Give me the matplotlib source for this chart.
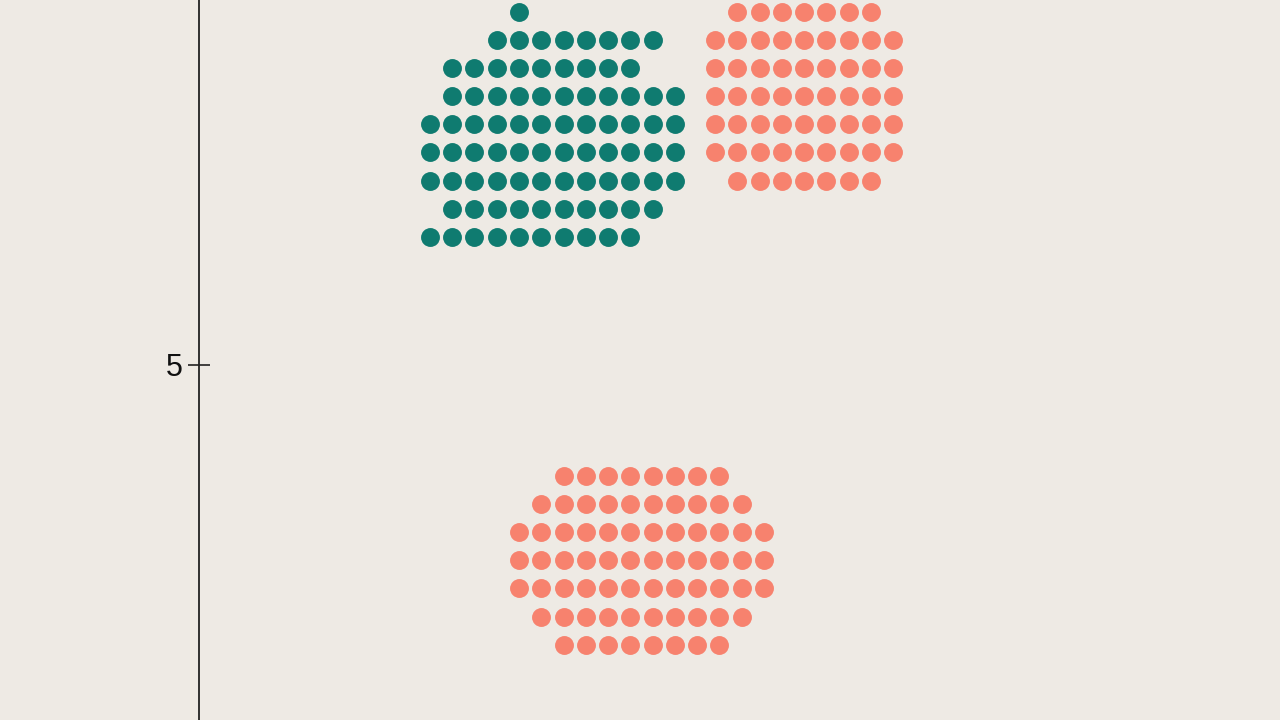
import matplotlib
matplotlib.use("Agg")
import matplotlib.pyplot as plt
import numpy as np

# ---- data: dot clusters (rows listed from top to bottom) ----
teal_row_starts = [4, 3, 1, 1, 0, 0, 0, 1, 0]
teal_row_counts = [1, 8, 9, 11, 12, 12, 12, 10, 10]
teal_origin = (10.37, 17.5)   # x of column 0, y of top row

salmon_top_row_starts = [1, 0, 0, 0, 0, 0, 1]
salmon_top_row_counts = [7, 9, 9, 9, 9, 9, 7]
salmon_top_origin = (23.17, 17.5)

salmon_bot_row_starts = [2, 1, 0, 0, 0, 1, 2]
salmon_bot_row_counts = [8, 10, 12, 12, 12, 10, 8]
salmon_bot_origin = (14.37, 1.07)

y_ticks = [5]
y_tick_labels = ["5"]

TEAL = "#0F7B70"
SALMON = "#F7826E"
BG = "#EEEAE4"


def cluster_points(origin, starts, counts):
    xs, ys = [], []
    x0, y0 = origin
    for r, (s, n) in enumerate(zip(starts, counts)):
        for c in range(s, s + n):
            xs.append(x0 + c)
            ys.append(y0 - r * 0.995)
    return np.array(xs), np.array(ys)


fig = plt.figure(figsize=(12.8, 7.2), dpi=100, facecolor=BG)
ax = fig.add_axes([199 / 1280, 0, 1 - 199 / 1280, 1])
ax.set_facecolor(BG)

px_per_unit_x = 22.27
px_per_unit_y = 28.25
ax.set_xlim(0, 1081 / px_per_unit_x)
ax.set_ylim(5 - 355 / px_per_unit_y, 5 + 365 / px_per_unit_y)

dot_size = 185
for origin, starts, counts, color in [
    (teal_origin, teal_row_starts, teal_row_counts, TEAL),
    (salmon_top_origin, salmon_top_row_starts, salmon_top_row_counts, SALMON),
    (salmon_bot_origin, salmon_bot_row_starts, salmon_bot_row_counts, SALMON),
]:
    xs, ys = cluster_points(origin, starts, counts)
    ax.scatter(xs, ys, s=dot_size, color=color, linewidths=0, zorder=3)

for side in ["top", "right", "bottom"]:
    ax.spines[side].set_visible(False)
ax.spines["left"].set_color("#222222")
ax.spines["left"].set_linewidth(1.3)

ax.set_xticks([])
ax.set_yticks(y_ticks)
ax.set_yticklabels(y_tick_labels, fontfamily="Liberation Sans", fontsize=22, color="#111111")
ax.tick_params(axis="y", direction="inout", length=15.8, width=1.2, color="#222222", pad=4.0)

fig.savefig("out.png", dpi=100, facecolor=BG)
